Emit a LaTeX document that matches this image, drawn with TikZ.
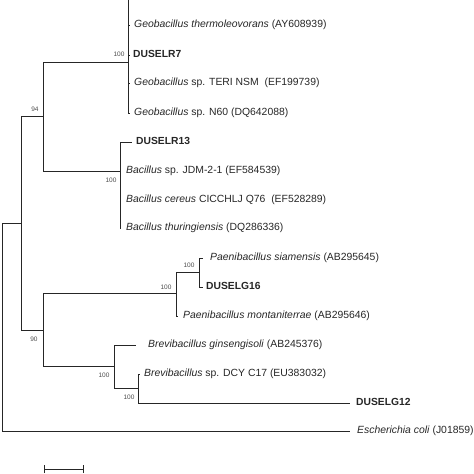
\documentclass[tikz,border=0pt]{standalone}
\usepackage{fontspec}
\setmainfont{Liberation Sans}
\begin{document}
\begin{tikzpicture}[x=1pt,y=-1pt,
  br/.style={line width=0.9pt,draw=black!85},
  leaf/.style={anchor=mid west,inner sep=0pt,font=\fontsize{10.4}{12}\selectfont,text=black!85},
  bold/.style={leaf,font=\fontsize{10.3}{12}\selectfont\bfseries},
  boot/.style={inner sep=0pt,font=\fontsize{6.5}{7}\selectfont,text=black!70}]
\useasboundingbox (0,0) rectangle (474,474);
\clip (0,0) rectangle (474,474);
% internal nodes
\coordinate (root) at (2,327);
\coordinate (n1) at (21,223);
\coordinate (n94) at (43,116);
\coordinate (geo) at (128,62);
\coordinate (bac) at (120,171);
\coordinate (n90) at (43,330);
\coordinate (pae) at (176,293);
\coordinate (pae2) at (199,272);
\coordinate (bre) at (114,366);
\coordinate (bre2) at (138,388);
% leaf tips
\coordinate (g0) at (130,-4);
\coordinate (g1) at (130,25);
\coordinate (g2) at (130,55);
\coordinate (g3) at (130,83);
\coordinate (g4) at (130,113);
\coordinate (b1) at (132,142);
\coordinate (b2) at (121,171);
\coordinate (b3) at (121,200);
\coordinate (b4) at (121,228);
\coordinate (p1) at (203,258);
\coordinate (p2) at (203,287);
\coordinate (p3) at (178,316);
\coordinate (r1) at (136,345);
\coordinate (r2) at (140,374);
\coordinate (r3) at (350,403);
\coordinate (ec) at (350,431);
% branches
\draw[br] (root) |- (n1);
\draw[br] (root) |- (ec);
\draw[br] (n1) |- (n94);
\draw[br] (n1) |- (n90);
\draw[br] (n94) |- (geo);
\draw[br] (n94) |- (bac);
\foreach \l in {g0,g1,g2,g3,g4} \draw[br] (geo) |- (\l);
\foreach \l in {b1,b2,b3,b4} \draw[br] (bac) |- (\l);
\draw[br] (n90) |- (pae);
\draw[br] (n90) |- (bre);
\draw[br] (pae) |- (pae2);
\draw[br] (pae) |- (p3);
\draw[br] (pae2) |- (p1);
\draw[br] (pae2) |- (p2);
\draw[br] (bre) |- (r1);
\draw[br] (bre) |- (bre2);
\draw[br] (bre2) |- (r2);
\draw[br] (bre2) |- (r3);
% leaf labels
\node[leaf] (tg1) at (134,25) {\textit{Geobacillus thermoleovorans} (AY608939)};
\node[bold] (tg2) at (133,55) {DUSELR7};
\node[leaf] (tg3) at (134,83) {\textit{Geobacillus} sp. TERI NSM\ \ (EF199739)};
\node[leaf] (tg4) at (134,113) {\textit{Geobacillus} sp. N60 (DQ642088)};
\node[bold] (tb1) at (136,142) {DUSELR13};
\node[leaf] (tb2) at (126,171) {\textit{Bacillus} sp. JDM-2-1 (EF584539)};
\node[leaf] (tb3) at (126,200) {\textit{Bacillus cereus} CICCHLJ Q76\ \ (EF528289)};
\node[leaf] (tb4) at (126,228) {\textit{Bacillus thuringiensis} (DQ286336)};
\node[leaf] (tp1) at (210,258) {\textit{Paenibacillus siamensis} (AB295645)};
\node[bold] (tp2) at (206,287) {DUSELG16};
\node[leaf] (tp3) at (183,316) {\textit{Paenibacillus montaniterrae} (AB295646)};
\node[leaf] (tr1) at (148,345) {\textit{Brevibacillus ginsengisoli} (AB245376)};
\node[leaf] (tr2) at (144,374) {\textit{Brevibacillus} sp. DCY C17 (EU383032)};
\node[bold] (tr3) at (356,403) {DUSELG12};
\node[leaf] (tec) at (357,431) {\textit{Escherichia coli} (J01859)};
% bootstrap values
\node[boot] (s1) at (119,54) {100};
\node[boot] (s2) at (35,109) {94};
\node[boot] (s3) at (111,180) {100};
\node[boot] (s4) at (189,265) {100};
\node[boot] (s5) at (166,287) {100};
\node[boot] (s6) at (34,339) {90};
\node[boot] (s7) at (104,375) {100};
\node[boot] (s8) at (129,397) {100};
% scale bar
\coordinate (sa) at (44,469);
\coordinate (sb) at (83,469);
\draw[br,line width=0.8pt] (sa) -- (sb);
\draw[br,line width=0.8pt] ([yshift=-4]sa) -- ([yshift=4]sa);
\draw[br,line width=0.8pt] ([yshift=-4]sb) -- ([yshift=4]sb);
\end{tikzpicture}
\end{document}
